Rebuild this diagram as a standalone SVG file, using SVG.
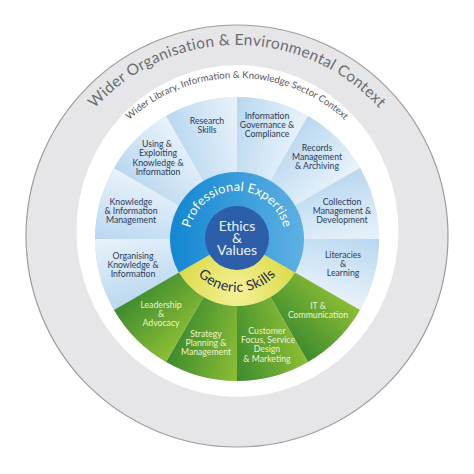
<svg xmlns="http://www.w3.org/2000/svg" width="474" height="474" viewBox="0 0 474 474">
<style>
text{font-family:Lato,"Open Sans","Liberation Sans",sans-serif}
.lb{font-size:8.7px;fill:#2b3a58;text-anchor:middle}
.lg{font-size:8.7px;fill:#eef4d2;text-anchor:middle}
.ev{font-size:14px;fill:#eef3fb;text-anchor:middle}
</style>
<defs>
<linearGradient id="gBlue" gradientUnits="userSpaceOnUse" x1="342.7" y1="231.1" x2="324.5" y2="298.7">
<stop offset="0" stop-color="#bad8f0"/><stop offset="1" stop-color="#e8f2fa"/>
</linearGradient>
<linearGradient id="gGreen" gradientUnits="userSpaceOnUse" x1="342.7" y1="231.1" x2="324.5" y2="298.7">
<stop offset="0" stop-color="#8cbd34"/><stop offset="1" stop-color="#3d8c2f"/>
</linearGradient>
<linearGradient id="gPro" x1="0" y1="0" x2="1" y2="0">
<stop offset="0" stop-color="#1387d3"/><stop offset="1" stop-color="#5eb0e2"/>
</linearGradient>
<radialGradient id="gYel" gradientUnits="userSpaceOnUse" cx="237" cy="292" r="62">
<stop offset="0" stop-color="#f4f29a"/><stop offset="1" stop-color="#dcd945"/>
</radialGradient>
<path id="wedge" d="M237,239 L379,239 A142,142 0 0,1 359.98,310 Z"/>
<path id="arcOuter" d="M46,236 A191,191 0 0,1 428,236"/>
<path id="arcSector" d="M78,237 A159,159 0 0,1 396,237"/>
<path id="arcPro" d="M189,239 A48,48 0 0,1 285,239"/>
<path id="arcGen" d="M184,239 A53,53 0 0,0 290,239"/>
</defs>

<g id="wider-organisation">
<circle cx="237" cy="236" r="211" fill="#e6e6e8" stroke="#9d9da0" stroke-width="1.2"/>
<text font-size="15.5" fill="#6b6c70" letter-spacing="0.3"><textPath href="#arcOuter" startOffset="50%" text-anchor="middle">Wider Organisation &amp; Environmental Context</textPath></text>
</g>

<g id="wider-sector">
<ellipse cx="237.5" cy="231" rx="161" ry="166" fill="#ffffff"/>
<text font-size="9.6" fill="#56575b"><textPath href="#arcSector" startOffset="50%" text-anchor="middle">Wider Library, Information &amp; Knowledge Sector Context</textPath></text>
</g>

<g id="wheel">
<circle cx="237" cy="239" r="142" fill="#d0e4f4"/>
<use href="#wedge" fill="url(#gBlue)" transform="rotate(150 237 239)"/>
<use href="#wedge" fill="url(#gBlue)" transform="rotate(180 237 239)"/>
<use href="#wedge" fill="url(#gBlue)" transform="rotate(210 237 239)"/>
<use href="#wedge" fill="url(#gBlue)" transform="rotate(240 237 239)"/>
<use href="#wedge" fill="url(#gBlue)" transform="rotate(270 237 239)"/>
<use href="#wedge" fill="url(#gBlue)" transform="rotate(300 237 239)"/>
<use href="#wedge" fill="url(#gBlue)" transform="rotate(330 237 239)"/>
<use href="#wedge" fill="url(#gBlue)"/>
<use href="#wedge" fill="url(#gGreen)" transform="rotate(30 237 239)"/>
<use href="#wedge" fill="url(#gGreen)" transform="rotate(60 237 239)"/>
<use href="#wedge" fill="url(#gGreen)" transform="rotate(90 237 239)"/>
<use href="#wedge" fill="url(#gGreen)" transform="rotate(120 237 239)"/>
</g>

<g id="research-skills"><text class="lb"><tspan x="207" y="124">Research</tspan><tspan x="207" y="133.2">Skills</tspan></text></g>
<g id="information-governance"><text class="lb"><tspan x="267" y="119">Information</tspan><tspan x="267" y="128.2">Governance &amp;</tspan><tspan x="267" y="137.4">Compliance</tspan></text></g>
<g id="records-management"><text class="lb"><tspan x="317" y="151">Records</tspan><tspan x="317" y="160.2">Management</tspan><tspan x="317" y="169.4">&amp; Archiving</tspan></text></g>
<g id="collection-management"><text class="lb"><tspan x="342" y="205">Collection</tspan><tspan x="342" y="214.2">Management &amp;</tspan><tspan x="342" y="223.4">Development</tspan></text></g>
<g id="literacies-learning"><text class="lb"><tspan x="343" y="258">Literacies</tspan><tspan x="343" y="267.2">&amp;</tspan><tspan x="343" y="276.4">Learning</tspan></text></g>
<g id="organising-knowledge"><text class="lb"><tspan x="133" y="259">Organising</tspan><tspan x="133" y="268.2">Knowledge &amp;</tspan><tspan x="133" y="277.4">Information</tspan></text></g>
<g id="knowledge-information-management"><text class="lb"><tspan x="131" y="205">Knowledge</tspan><tspan x="131" y="214.2">&amp; Information</tspan><tspan x="131" y="223.4">Management</tspan></text></g>
<g id="using-exploiting"><text class="lb"><tspan x="157" y="147">Using &amp;</tspan><tspan x="158" y="156.3">Exploiting</tspan><tspan x="158" y="165.6">Knowledge &amp;</tspan><tspan x="158" y="174.9">Information</tspan></text></g>

<g id="leadership-advocacy"><text class="lg"><tspan x="161" y="308">Leadership</tspan><tspan x="161" y="317.2">&amp;</tspan><tspan x="161" y="326.4">Advocacy</tspan></text></g>
<g id="strategy-planning"><text class="lg"><tspan x="206" y="337">Strategy</tspan><tspan x="206" y="346.2">Planning &amp;</tspan><tspan x="206" y="355.4">Management</tspan></text></g>
<g id="customer-focus"><text class="lg"><tspan x="267" y="334">Customer</tspan><tspan x="268" y="343.2">Focus, Service</tspan><tspan x="267" y="352.4">Design</tspan><tspan x="267" y="361.6">&amp; Marketing</tspan></text></g>
<g id="it-communication"><text class="lg"><tspan x="318" y="309">IT &amp;</tspan><tspan x="318" y="318.2">Communication</tspan></text></g>

<g id="professional-expertise">
<circle cx="237" cy="239" r="67" fill="url(#gPro)"/>
<text font-size="12.8" fill="#ffffff" letter-spacing="0.2"><textPath href="#arcPro" startOffset="50%" text-anchor="middle">Professional Expertise</textPath></text>
</g>

<g id="generic-skills">
<path d="M237,239 L295.02,272.5 A67,67 0 0,1 178.98,272.5 Z" fill="url(#gYel)"/>
<text font-size="14" fill="#1f2a48" letter-spacing="0.4"><textPath href="#arcGen" startOffset="50%" text-anchor="middle">Generic Skills</textPath></text>
</g>

<g id="ethics-values">
<circle cx="237" cy="238" r="32" fill="#2d5ea9"/>
<text class="ev"><tspan x="237" y="231">Ethics</tspan><tspan x="237" y="243">&amp;</tspan><tspan x="237" y="255">Values</tspan></text>
</g>

<g id="connectors"></g>
</svg>
